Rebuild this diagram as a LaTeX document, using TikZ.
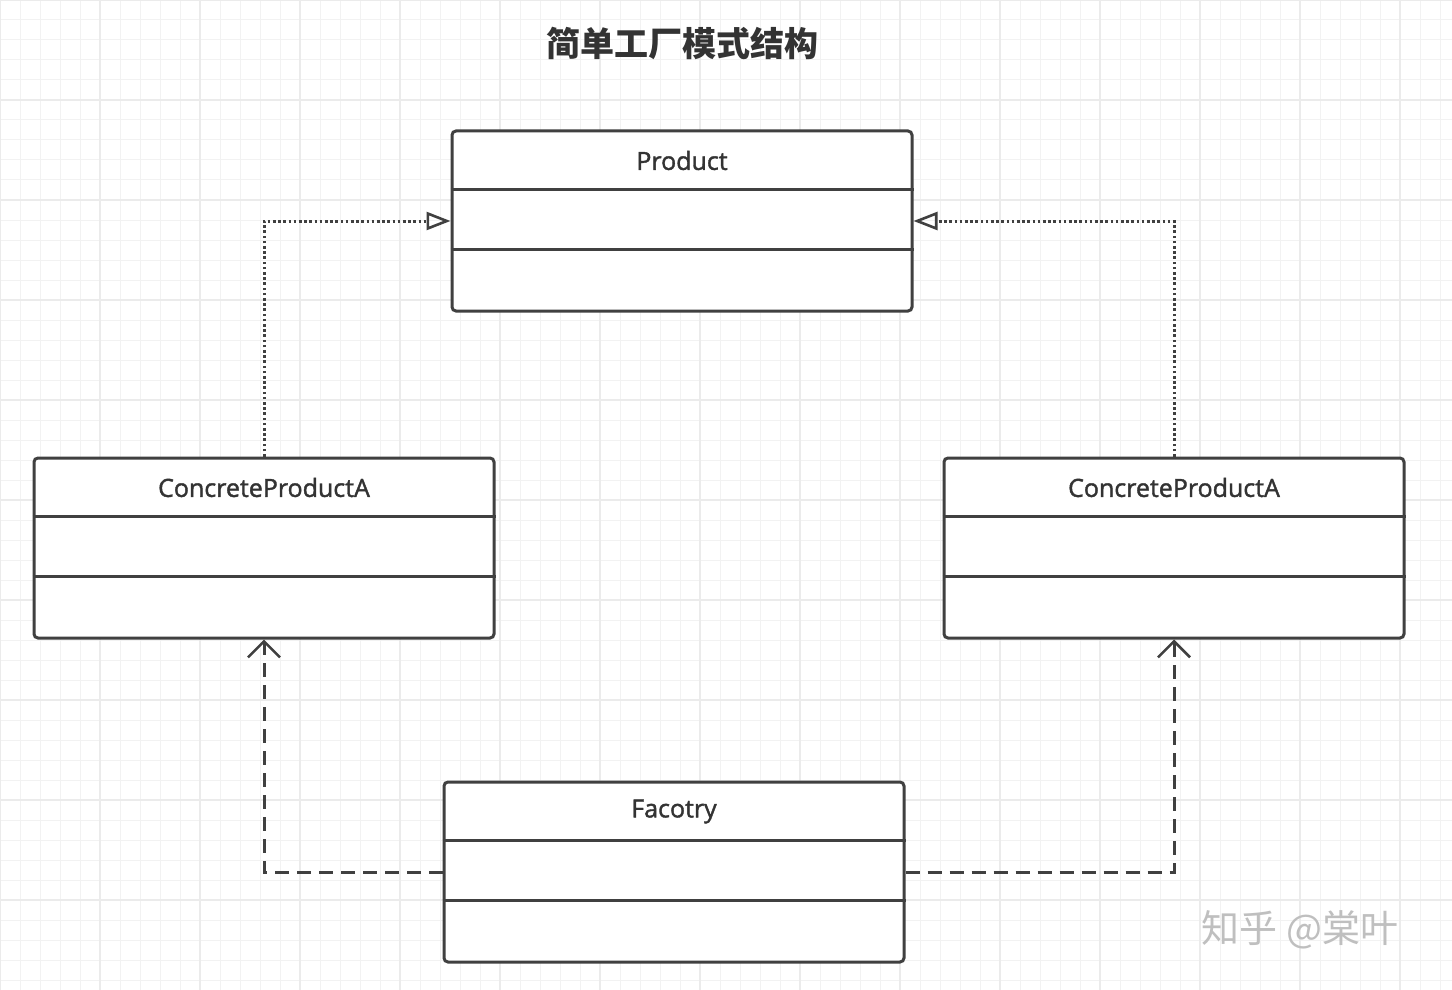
\documentclass[tikz,border=0pt]{standalone}
\usepackage{fontspec}
\setmainfont{Open Sans}
\newfontfamily\lab[FakeBold=1.5]{Open Sans}
\newfontfamily\cjk{Noto Sans CJK SC}
\usetikzlibrary{arrows.meta,calc}
\begin{document}
\begin{tikzpicture}[x=0.5pt,y=-0.5pt,
  cls/.style={draw=black!75,line width=1.5pt,rounded corners=2pt,fill=white,minimum width=230pt,minimum height=90pt,inner sep=0},
  lbl/.style={font=\lab\fontsize{12.5}{14}\selectfont,text=black!80},
  div/.style={draw=black!75,line width=1.5pt},
  real/.style={draw=black!75,line width=1.5pt,dash pattern=on 1.3pt off 1.3pt,-{Triangle[open,length=12pt,width=9pt,line width=1.3pt]}},
  dep/.style={draw=black!75,line width=1.5pt,dash pattern=on 7pt off 4pt,-{Straight Barb[length=8pt,width=16pt,line width=1.3pt]}}]
\useasboundingbox (0,0) rectangle (1452,990);
\fill[white] (0,0) rectangle (1452,990);
\foreach \i in {0,20,...,1452} \draw[black!5,line width=0.5pt] (\i,0) -- (\i,990);
\foreach \j in {0,20,...,990} \draw[black!5,line width=0.5pt] (0,\j) -- (1452,\j);
\foreach \i in {0,100,...,1452} \draw[black!8,line width=0.8pt] (\i,0) -- (\i,990);
\foreach \j in {0,100,...,990} \draw[black!8,line width=0.8pt] (0,\j) -- (1452,\j);
\node[font=\cjk\bfseries\fontsize{17}{20}\selectfont,text=black!80] (title) at (682,43) {简单工厂模式结构};
\node[cls] (p) at (682,221) {};
\node[cls] (a) at (264,548) {};
\node[cls] (b) at (1174,548) {};
\node[cls] (f) at (674,872) {};
\foreach \n/\t in {p/Product,a/ConcreteProductA,b/ConcreteProductA,f/Facotry}{
  \draw[div] ($(\n.north west)+(0,60)$) -- ($(\n.north east)+(0,60)$);
  \draw[div] ($(\n.north west)+(0,120)$) -- ($(\n.north east)+(0,120)$);
  \node[lbl] (\n t) at ($(\n.north)+(0,31)$) {\t};
}
\draw[real] (a.north) |- (p.west);
\draw[real] (b.north) |- (p.east);
\draw[dep] (f.west) -| (a.south);
\draw[dep] (f.east) -| (b.south);
\node[font=\cjk\fontsize{19}{20}\selectfont,text=black!25] (wm) at (1300,930) {知乎 @棠叶};
\end{tikzpicture}
\end{document}
